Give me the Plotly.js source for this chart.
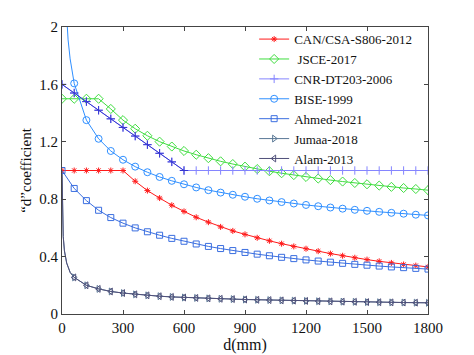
<!DOCTYPE html>
<html>
<head>
<meta charset="utf-8">
<script src="https://cdn.plot.ly/plotly-3.0.1.min.js"></script>
<style>html,body{margin:0;padding:0;background:#fff;}#chart{width:474px;height:355px;}</style>
</head>
<body>
<div id="chart"></div>
<script>
// depth d (mm) at marker positions
const d = [0,60,120,180,240,300,360,420,480,540,600,660,720,780,840,900,960,1020,1080,1140,1200,1260,1320,1380,1440,1500,1560,1620,1680,1740,1800];

const csa = [1.0,1.0,1.0,1.0,1.0,1.0,0.925,0.860,0.808,0.758,0.715,0.674,0.640,0.607,0.579,0.555,0.531,0.510,0.490,0.471,0.455,0.438,0.421,0.406,0.392,0.379,0.367,0.356,0.345,0.337,0.328];
const jsce = [1.5,1.5,1.5,1.5,1.429,1.351,1.291,1.242,1.201,1.167,1.136,1.110,1.086,1.064,1.045,1.027,1.010,0.995,0.981,0.968,0.955,0.944,0.933,0.923,0.913,0.904,0.895,0.886,0.878,0.871,0.863];
const cnr = [1.6,1.54,1.48,1.42,1.36,1.30,1.24,1.18,1.12,1.06,1.0,1.0,1.0,1.0,1.0,1.0,1.0,1.0,1.0,1.0,1.0,1.0,1.0,1.0,1.0,1.0,1.0,1.0,1.0,1.0,1.0];
// BISE has no marker at d=0 (curve starts above the frame)
const biseD = [60,120,180,240,300,360,420,480,540,600,660,720,780,840,900,960,1020,1080,1140,1200,1260,1320,1380,1440,1500,1560,1620,1680,1740,1800];
const bise = [1.607,1.351,1.221,1.136,1.075,1.027,0.988,0.955,0.928,0.904,0.882,0.863,0.846,0.831,0.817,0.803,0.791,0.780,0.770,0.760,0.751,0.742,0.734,0.726,0.719,0.712,0.705,0.699,0.692,0.687];
const biseHeadD = [15,20,30,40,60];
const biseHeadV = [2.27,2.115,1.91,1.778,1.607];
const ahmed = [1.0,0.875,0.790,0.723,0.672,0.633,0.600,0.573,0.549,0.527,0.507,0.488,0.471,0.456,0.442,0.429,0.417,0.406,0.395,0.386,0.377,0.369,0.361,0.353,0.346,0.340,0.334,0.328,0.323,0.318,0.313];
const tailD = [60,120,180,240,300,360,420,480,540,600,660,720,780,840,900,960,1020,1080,1140,1200,1260,1320,1380,1440,1500,1560,1620,1680,1740,1800];
const jumaa = [0.255,0.200,0.175,0.157,0.146,0.137,0.130,0.124,0.119,0.115,0.112,0.109,0.106,0.104,0.101,0.099,0.097,0.095,0.093,0.091,0.089,0.088,0.086,0.085,0.083,0.082,0.081,0.080,0.079,0.078];
const alam = [0.255,0.200,0.175,0.157,0.146,0.137,0.130,0.124,0.119,0.115,0.112,0.109,0.106,0.104,0.101,0.099,0.097,0.095,0.093,0.091,0.089,0.088,0.086,0.085,0.083,0.082,0.081,0.080,0.079,0.078];
const headD = [0,1.5,6,12,23,40,60];
const jumaaHead = [1.0,0.78,0.54,0.44,0.355,0.29,0.255];
const alamHead = [1.0,0.78,0.54,0.44,0.355,0.29,0.255];

const names = ['CAN/CSA-S806-2012','\u00a0JSCE-2017','CNR-DT203-2006','BISE-1999','Ahmed-2021','Jumaa-2018','Alam-2013'];
const colors = ['#ff1a1a','#3fdd3f','#8585ff','#2f8fff','#3a6ee0','#5a7896','#50507a'];

const FONT = 'Liberation Serif, Times New Roman, serif';

function main(name, x, y, color, symbol, size) {
  return {x: x, y: y, name: name, type: 'scatter', mode: 'lines+markers',
    line: {color: color, width: 1},
    marker: {symbol: symbol, size: size, color: color, line: {color: color, width: 1}}};
}
function head(x, y, color) {
  return {x: x, y: y, type: 'scatter', mode: 'lines', showlegend: false, hoverinfo: 'skip',
    line: {color: color, width: 1}};
}

const cnrDownD = d.slice(0, 11);
const cnrDownV = cnr.slice(0, 11);

const traces = [
  head(biseHeadD, biseHeadV, colors[3]),
  head(headD, jumaaHead, colors[5]),
  head(headD, alamHead, colors[6]),
  main(names[0], d, csa, colors[0], 'asterisk-open', 5),
  main(names[1], d, jsce, colors[1], 'diamond-open', 7),
  main(names[2], d, cnr, colors[2], 'cross-thin-open', 6),
  main(names[3], biseD, bise, colors[3], 'circle-open', 7),
  main(names[4], d, ahmed, colors[4], 'square-open', 6),
  main(names[5], tailD, jumaa, colors[5], 'triangle-right-open', 6),
  main(names[6], tailD, alam, colors[6], 'triangle-left-open', 6)
];
// darker descending part of CNR curve
traces.push({x: cnrDownD, y: cnrDownV, type: 'scatter', mode: 'lines+markers', showlegend: false,
  line: {color: '#3535d0', width: 1},
  marker: {symbol: 'cross-thin-open', size: 6, color: '#3535d0', line: {color: '#3535d0', width: 1}}});

const axisCommon = {
  showline: true, linecolor: '#444', linewidth: 1, mirror: 'ticks',
  ticks: 'inside', ticklen: 4, tickcolor: '#444', tickwidth: 1,
  showgrid: false, zeroline: false,
  tickfont: {family: FONT, size: 15, color: '#111'}
};

const layout = {
  width: 474, height: 355,
  margin: {l: 62, r: 46, t: 27, b: 41},
  paper_bgcolor: '#fff', plot_bgcolor: '#fff',
  font: {family: FONT, color: '#111'},
  showlegend: true,
  legend: {x: 0.525, y: 1.01, xanchor: 'left', yanchor: 'top',
    bgcolor: 'rgba(255,255,255,0)', borderwidth: 0, itemwidth: 30,
    font: {family: FONT, size: 13, color: '#111'}, tracegroupgap: 0},
  xaxis: Object.assign({}, axisCommon, {range: [0, 1800], tickvals: [0,300,600,900,1200,1500,1800],
    title: {text: 'd(mm)', font: {family: FONT, size: 16, color: '#111'}, standoff: 2}}),
  yaxis: Object.assign({}, axisCommon, {range: [0, 2], tickvals: [0,0.4,0.8,1.2,1.6,2], ticktext: ['0','0.4','0.8','1.2','1.6','2'],
    title: {text: '\u201cd\u201dcoefficient', font: {family: FONT, size: 15, color: '#111'}, standoff: 4}})
};

Plotly.newPlot('chart', traces, layout, {displayModeBar: false, staticPlot: true});
</script>
</body>
</html>
